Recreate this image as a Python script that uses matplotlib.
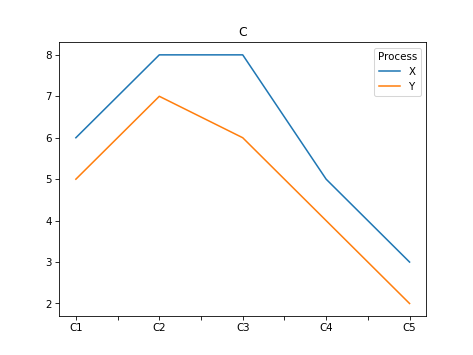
import matplotlib
matplotlib.use("Agg")
import matplotlib.pyplot as plt

categories = ["C1", "C2", "C3", "C4", "C5"]
x_values = [6, 8, 8, 5, 3]
y_values = [5, 7, 6, 4, 2]

fig, ax = plt.subplots(figsize=(6.4, 4.8), dpi=74)
pos = list(range(len(categories)))
ax.plot(pos, x_values, label="X")
ax.plot(pos, y_values, label="Y")
ticks = [i * 0.5 for i in range(2 * len(categories) - 1)]
labels = [categories[int(t)] if t == int(t) else "" for t in ticks]
ax.set_xticks(ticks)
ax.set_xticklabels(labels)
ax.set_title("C")
ax.legend(title="Process")
fig.savefig("out.png", dpi=74)
